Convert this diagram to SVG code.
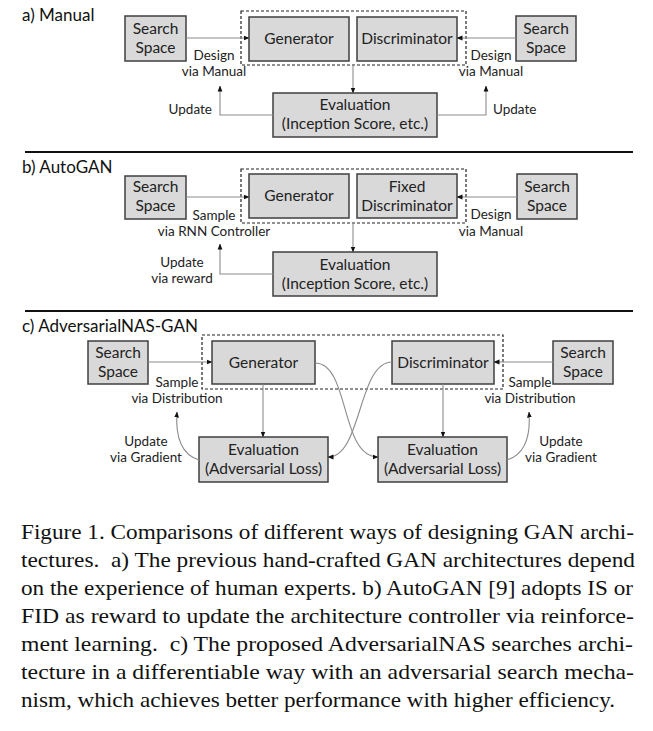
<svg xmlns="http://www.w3.org/2000/svg" width="653" height="731" viewBox="0 0 653 731">
<defs>
<style>
.box{fill:#d9d9d9;stroke:#3f3f3f;stroke-width:1.5}
.dash{fill:none;stroke:#222;stroke-width:1.2;stroke-dasharray:3,2}
.bt{font-family:Lato,"Liberation Sans",sans-serif;font-size:15.5px;fill:#222;text-anchor:middle}
.lt{font-family:Lato,"Liberation Sans",sans-serif;font-size:13.5px;fill:#222}
.mid{text-anchor:middle}
.end{text-anchor:end}
.title{font-family:Lato,"Liberation Sans",sans-serif;font-size:17px;fill:#111}
.conn path{fill:none;stroke:#8c8c8c;stroke-width:1.1}
.sep{stroke:#111;stroke-width:2}
.cap{font-family:"Liberation Serif","Times New Roman",serif;font-size:21.5px;fill:#111}
</style>
<marker id="ah" viewBox="0 0 6 6" refX="5.5" refY="3" markerWidth="6" markerHeight="6" markerUnits="userSpaceOnUse" orient="auto">
<path d="M0,0.6 L6,3 L0,5.4 Z" fill="#111"/>
</marker>
</defs>
<rect width="653" height="731" fill="#fff"/>

<!-- Section a -->
<text class="title" x="22" y="21">a) Manual</text>
<rect class="dash" x="241" y="11" width="225" height="54"/>
<g id="a-ss-left"><rect class="box" x="125" y="16" width="61" height="45"/><text class="bt" x="155.5" y="34">Search</text><text class="bt" x="155.5" y="53">Space</text></g>
<g id="a-gen"><rect class="box" x="249" y="17" width="100" height="44"/><text class="bt" x="299" y="44">Generator</text></g>
<g id="a-disc"><rect class="box" x="357" y="17" width="100" height="44"/><text class="bt" x="407" y="44">Discriminator</text></g>
<g id="a-ss-right"><rect class="box" x="516" y="16" width="60" height="45"/><text class="bt" x="546" y="34">Search</text><text class="bt" x="546" y="53">Space</text></g>
<g id="a-eval"><rect class="box" x="273" y="93" width="164" height="44"/><text class="bt" x="355" y="110">Evaluation</text><text class="bt" x="355" y="129">(Inception Score, etc.)</text></g>
<text class="lt mid" x="214" y="60">Design</text>
<text class="lt mid" x="214" y="76">via Manual</text>
<text class="lt mid" x="491" y="60">Design</text>
<text class="lt mid" x="491" y="76">via Manual</text>
<text class="lt end" x="212" y="114">Update</text>
<text class="lt" x="493" y="114">Update</text>

<line class="sep" x1="25" y1="152" x2="633" y2="152"/>

<!-- Section b -->
<text class="title" x="22" y="173">b) AutoGAN</text>
<rect class="dash" x="241" y="169" width="225" height="54"/>
<g id="b-ss-left"><rect class="box" x="125" y="176" width="61" height="43"/><text class="bt" x="155.5" y="192">Search</text><text class="bt" x="155.5" y="211">Space</text></g>
<g id="b-gen"><rect class="box" x="249" y="174" width="100" height="44"/><text class="bt" x="299" y="201">Generator</text></g>
<g id="b-disc"><rect class="box" x="357" y="174" width="100" height="44"/><text class="bt" x="407" y="192">Fixed</text><text class="bt" x="407" y="211">Discriminator</text></g>
<g id="b-ss-right"><rect class="box" x="517" y="174" width="60" height="45"/><text class="bt" x="547" y="192">Search</text><text class="bt" x="547" y="211">Space</text></g>
<g id="b-eval"><rect class="box" x="273" y="252" width="164" height="44"/><text class="bt" x="355" y="270">Evaluation</text><text class="bt" x="355" y="289">(Inception Score, etc.)</text></g>
<text class="lt mid" x="214" y="220">Sample</text>
<text class="lt mid" x="214" y="236">via RNN Controller</text>
<text class="lt mid" x="491" y="219">Design</text>
<text class="lt mid" x="491" y="236">via Manual</text>
<text class="lt mid" x="182" y="267">Update</text>
<text class="lt mid" x="182" y="283">via reward</text>

<line class="sep" x1="25" y1="311" x2="633" y2="311"/>

<!-- Section c -->
<text class="title" x="22" y="332">c) AdversarialNAS-GAN</text>
<rect class="dash" x="202" y="335" width="301" height="54"/>
<g id="c-ss-left"><rect class="box" x="88" y="341" width="60" height="43"/><text class="bt" x="118" y="358">Search</text><text class="bt" x="118" y="377">Space</text></g>
<g id="c-gen"><rect class="box" x="212" y="341" width="103" height="43"/><text class="bt" x="263.5" y="368">Generator</text></g>
<g id="c-disc"><rect class="box" x="392" y="341" width="102" height="43"/><text class="bt" x="443" y="368">Discriminator</text></g>
<g id="c-ss-right"><rect class="box" x="553" y="341" width="60" height="43"/><text class="bt" x="583" y="358">Search</text><text class="bt" x="583" y="377">Space</text></g>
<g id="c-eval-left"><rect class="box" x="199" y="437" width="129" height="45"/><text class="bt" x="263.5" y="455">Evaluation</text><text class="bt" x="263.5" y="474">(Adversarial Loss)</text></g>
<g id="c-eval-right"><rect class="box" x="378" y="437" width="129" height="45"/><text class="bt" x="442.5" y="455">Evaluation</text><text class="bt" x="442.5" y="474">(Adversarial Loss)</text></g>
<text class="lt mid" x="177" y="387">Sample</text>
<text class="lt mid" x="177" y="403">via Distribution</text>
<text class="lt mid" x="530" y="387">Sample</text>
<text class="lt mid" x="530" y="403">via Distribution</text>
<text class="lt mid" x="146" y="446">Update</text>
<text class="lt mid" x="146" y="462">via Gradient</text>
<text class="lt mid" x="561" y="446">Update</text>
<text class="lt mid" x="561" y="462">via Gradient</text>

<g id="connectors" class="conn">
<path d="M186,38 H249" marker-end="url(#ah)"/>
<path d="M516,38 H457" marker-end="url(#ah)"/>
<path d="M353,65 V93" marker-end="url(#ah)"/>
<path d="M273,115 H220 V86" marker-end="url(#ah)"/>
<path d="M437,115 H486 V86" marker-end="url(#ah)"/>
<path d="M186,197 H249" marker-end="url(#ah)"/>
<path d="M517,197 H457" marker-end="url(#ah)"/>
<path d="M353,223 V252" marker-end="url(#ah)"/>
<path d="M273,274 H220 V244" marker-end="url(#ah)"/>
<path d="M148,362 H212" marker-end="url(#ah)"/>
<path d="M553,362 H494" marker-end="url(#ah)"/>
<path d="M263,384 V437" marker-end="url(#ah)"/>
<path d="M443,384 V437" marker-end="url(#ah)"/>
<path d="M315,363 C350,363 340,457 378,457" marker-end="url(#ah)"/>
<path d="M392,362 C358,362 362,457 328,457" marker-end="url(#ah)"/>
<path d="M199,460 C183,455 175,440 177,412" marker-end="url(#ah)"/>
<path d="M507,460 C523,455 531,440 529,412" marker-end="url(#ah)"/>
</g>

<!-- Caption -->
<text class="cap" x="21" y="539" textLength="613" lengthAdjust="spacingAndGlyphs">Figure 1. Comparisons of different ways of designing GAN archi-</text>
<text class="cap" x="21" y="567" textLength="614" lengthAdjust="spacingAndGlyphs">tectures.&#160; a) The previous hand-crafted GAN architectures depend</text>
<text class="cap" x="21" y="595" textLength="612" lengthAdjust="spacingAndGlyphs">on the experience of human experts. b) AutoGAN [9] adopts IS or</text>
<text class="cap" x="21" y="623" textLength="613" lengthAdjust="spacingAndGlyphs">FID as reward to update the architecture controller via reinforce-</text>
<text class="cap" x="21" y="651" textLength="612" lengthAdjust="spacingAndGlyphs">ment learning.&#160; c) The proposed AdversarialNAS searches archi-</text>
<text class="cap" x="21" y="679" textLength="613" lengthAdjust="spacingAndGlyphs">tecture in a differentiable way with an adversarial search mecha-</text>
<text class="cap" x="21" y="707" textLength="594" lengthAdjust="spacingAndGlyphs">nism, which achieves better performance with higher efficiency.</text>
</svg>
